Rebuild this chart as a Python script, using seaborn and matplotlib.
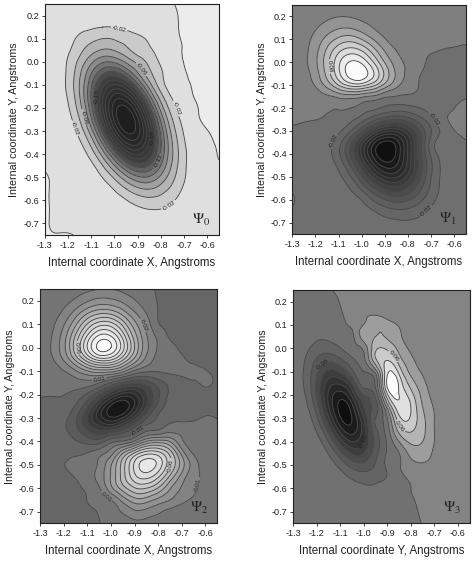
import numpy as np
import matplotlib
matplotlib.use('Agg')
import matplotlib.pyplot as plt
import matplotlib.tri as mtri
import seaborn as sns
from matplotlib.colors import TwoSlopeNorm

# ==========================================================
# DATA: wavefunction values, in units of 0.01
# rows run from the top of the panel (y = 0.25) to the bottom (y = -0.75)
# ==========================================================
x_grid = [-1.3, -1.25, -1.2, -1.15, -1.1, -1.05, -1.0, -0.95, -0.9, -0.85, -0.8, -0.75, -0.7, -0.65, -0.6, -0.55]
y_grid = [0.25, 0.2, 0.15, 0.1, 0.05, 0.0, -0.05, -0.1, -0.15, -0.2, -0.25, -0.3, -0.35, -0.4, -0.45, -0.5, -0.55, -0.6, -0.65, -0.7, -0.75]
x_ticks = [-1.3, -1.2, -1.1, -1.0, -0.9, -0.8, -0.7, -0.6]
y_ticks = [0.2, 0.1, 0.0, -0.1, -0.2, -0.3, -0.4, -0.5, -0.6, -0.7]

psi0 = [
    [-.1, -.12, -.22, -.32, -.36, -.31, -.2, -.12, -.1, -.1, -.1, -.03, .2, .3, .3, .3],
    [-.1, -.22, -.44, -.68, -.83, -.8, -.65, -.45, -.3, -.2, -.1, -.1, .15, .3, .3, .3],
    [-.15, -.35, -.77, -1.3, -1.7, -2.0, -1.9, -1.5, -.9, -.4, -.2, -.15, .15, .3, .3, .3],
    [-.17, -.52, -1.2, -2.5, -3.4, -4.0, -3.8, -3.2, -2.5, -1.6, -.6, -.2, .1, .3, .3, .3],
    [-.21, -.68, -1.7, -3.4, -5.1, -6.2, -5.9, -4.6, -3.2, -2.3, -1.2, -.3, .05, .3, .3, .3],
    [-.22, -.8, -2.2, -4.6, -7.5, -9.7, -9.6, -7.6, -5.4, -3.4, -1.7, -.6, .03, .3, .3, .3],
    [-.22, -.83, -2.4, -5.6, -9.9, -13.7, -14.7, -12.2, -8.2, -4.6, -2.3, -.8, -.1, .3, .3, .3],
    [-.19, -.76, -2.5, -6.1, -11.6, -17.4, -20.1, -18.1, -12.6, -6.9, -2.9, -.95, -.24, .15, .3, .3],
    [-.14, -.64, -2.2, -5.9, -12.2, -19.7, -24.7, -24.0, -18.1, -10.6, -4.8, -1.72, -.47, .08, .3, .3],
    [-.1, -.47, -1.77, -5.1, -11.4, -20.0, -27.0, -28.4, -23.1, -14.7, -7.2, -2.8, -.82, -.1, .3, .3],
    [-.06, -.32, -1.27, -4.0, -9.6, -18.1, -26.4, -30.0, -26.4, -18.1, -9.6, -4.0, -1.27, -.2, .2, .3],
    [-.1, -.19, -.82, -2.8, -7.2, -14.7, -23.1, -28.4, -27.0, -20.0, -11.4, -5.1, -1.77, -.47, -.02, .2],
    [-.1, -.1, -.47, -1.72, -4.8, -10.6, -18.1, -24.0, -24.7, -19.7, -12.2, -5.9, -2.2, -.64, -.15, .1],
    [-.1, -.1, -.24, -.95, -2.9, -6.9, -12.6, -18.1, -20.1, -17.4, -11.6, -6.1, -2.5, -.76, -.25, .05],
    [-.1, -.1, -.12, -.48, -1.5, -4.0, -7.9, -12.2, -14.7, -13.7, -9.9, -5.6, -2.4, -.83, -.22, -.05],
    [.1, -.1, -.1, -.2, -.74, -2.1, -4.4, -7.4, -9.6, -9.7, -7.5, -4.6, -2.2, -.8, -.22, -.1],
    [.1, -.1, -.1, -.1, -.32, -.95, -2.2, -4.0, -5.6, -6.1, -5.1, -3.4, -1.7, -.68, -.21, -.1],
    [.1, -.1, -.1, -.1, -.12, -.39, -1.0, -1.9, -2.9, -3.4, -3.1, -2.2, -1.2, -.52, -.17, -.1],
    [.1, -.1, -.1, -.1, -.1, -.15, -.39, -.83, -1.35, -1.7, -1.7, -1.3, -.77, -.35, -.15, -.1],
    [.1, -.1, -.1, -.1, -.1, -.1, -.14, -.32, -.57, -.77, -.83, -.68, -.44, -.22, -.1, -.1],
    [.05, .03, .03, -.05, -.1, -.1, -.1, -.11, -.2, -.31, -.36, -.32, -.22, -.12, -.1, -.1],
]
psi1 = [
    [.3, .35, .5, .7, .9, .85, .7, .5, .35, .3, .3, .3, .3, .3, .3, .3],
    [.45, .7, 1.15, 1.6, 1.95, 1.9, 1.5, 1.0, .6, .4, .3, .3, .3, .3, .3, .3],
    [.45, .9, 1.8, 2.9, 3.8, 3.9, 3.1, 2.0, 1.05, .5, .3, .3, .3, .3, .3, .3],
    [.55, 1.25, 2.7, 4.7, 6.5, 7.2, 6.0, 4.0, 2.15, .95, .45, .3, .3, .3, .2, .15],
    [.6, 1.45, 3.35, 6.4, 9.5, 11.0, 10.0, 7.0, 3.9, 2.0, .7, .3, .1, -.05, -.1, -.15],
    [.6, 1.5, 3.6, 7.2, 11.5, 14.2, 13.6, 10.1, 5.9, 3.0, 1.5, .4, -.2, -.2, -.2, -.2],
    [.5, 1.2, 3.1, 6.7, 11.4, 15.0, 15.4, 12.3, 7.6, 3.7, 1.5, .1, -.2, -.25, -.2, -.2],
    [.4, .85, 2.2, 4.7, 8.0, 10.6, 10.8, 8.6, 5.3, 2.6, 1.0, -.05, -.2, -.3, -.3, -.3],
    [.25, .35, .75, 1.6, 2.5, 2.9, 2.4, 1.6, .3, -.1, -.3, -.4, -.3, -.2, -.2, -.05],
    [.2, .2, .25, .2, .1, .02, -.8, -1.6, -2.4, -2.9, -2.7, -2.05, -1.2, -.55, -.02, .2],
    [.15, .08, .02, -.2, -.6, -1.5, -3.1, -5.3, -7.3, -8.0, -7.0, -4.9, -2.7, -.5, .3, .4],
    [-.15, -.2, -.3, -.6, -1.6, -3.8, -7.6, -12.0, -15.2, -15.5, -12.5, -8.0, -4.1, -1.5, -.05, .3],
    [-.2, -.2, -.4, -1.2, -3.2, -7.2, -13.0, -19.2, -22.5, -21.0, -15.6, -9.2, -3.2, -1.1, -.5, -.05],
    [-.2, -.2, -.45, -1.3, -3.6, -8.0, -14.4, -20.7, -23.8, -21.7, -15.8, -9.1, -3.6, -1.2, -.5, -.2],
    [-.2, -.2, -.3, -.9, -2.5, -6.0, -11.3, -17.2, -20.8, -20.0, -15.4, -9.4, -4.4, -1.6, -.5, -.2],
    [-.2, -.2, -.25, -.5, -1.5, -3.8, -7.7, -12.4, -15.9, -16.3, -13.3, -8.6, -4.1, -1.6, -.6, -.2],
    [-.1, -.2, -.2, -.3, -.8, -2.1, -4.5, -7.7, -10.5, -11.4, -9.8, -6.7, -3.6, -1.5, -.5, -.2],
    [.1, -.2, -.2, -.2, -.4, -1.1, -2.1, -4.2, -6.0, -6.9, -6.3, -4.6, -2.7, -1.2, -.45, -.2],
    [-.1, -.2, -.2, -.2, -.25, -.4, -1.0, -1.9, -3.0, -3.6, -3.5, -2.7, -1.6, -.8, -.3, -.2],
    [-.15, -.2, -.2, -.2, -.2, -.25, -.4, -.8, -1.3, -1.6, -1.7, -1.4, -.9, -.45, -.25, -.2],
    [-.2, -.2, -.2, -.2, -.2, -.2, -.3, -.5, -.65, -.7, -.6, -.4, -.25, -.2, -.2, -.2],
]
psi2 = [
    [.3, .35, .4, .55, .8, 1.0, 1.0, .75, .45, .2, -.1, -.3, -.3, -.3, -.3, -.3],
    [.3, .4, .7, 1.2, 1.9, 2.4, 2.3, 1.8, 1.1, .47, -.05, -.3, -.3, -.3, -.3, -.3],
    [.3, .55, 1.2, 2.4, 3.8, 4.7, 4.6, 3.5, 2.1, .95, -.03, -.3, -.3, -.3, -.3, -.3],
    [.3, .8, 1.9, 3.8, 6.1, 7.6, 7.5, 5.7, 3.4, 1.6, .1, -.2, -.3, -.3, -.3, -.3],
    [.35, 1.0, 2.5, 5.1, 8.1, 10.2, 10.0, 7.6, 4.5, 2.1, .7, -.1, -.3, -.3, -.3, -.3],
    [.4, 1.1, 2.7, 5.6, 9.0, 11.3, 11.0, 8.4, 5.0, 2.3, .9, .2, -.1, -.3, -.3, -.3],
    [.3, .85, 2.1, 4.2, 6.7, 8.4, 8.2, 6.2, 3.7, 1.7, .7, .3, .1, -.2, -.25, -.25],
    [.3, .45, .95, 1.85, 2.9, 3.5, 3.3, 2.3, .8, .15, .05, .2, .2, .2, .05, -.2],
    [.25, .3, .4, .55, .6, .02, -1.1, -2.3, -2.9, -2.5, -1.5, -.7, -.3, -.1, .1, -.15],
    [.08, .05, .02, -.35, -1.2, -2.8, -4.9, -6.4, -6.1, -4.2, -2.2, -.8, -.3, -.2, -.2, -.2],
    [-.15, -.2, -.35, -1.1, -2.8, -5.6, -8.2, -8.8, -6.9, -4.0, -1.7, -.6, -.3, -.2, -.2, -.2],
    [-.15, -.3, -.75, -1.8, -4.0, -6.4, -7.8, -6.9, -4.5, -2.1, -.85, -.3, -.25, -.15, .05, -.02],
    [-.2, -.3, -.8, -1.7, -3.0, -4.1, -4.1, -3.0, -1.6, -.3, -.05, .6, .6, .45, .3, .2],
    [-.2, -.25, -.45, -.9, -1.4, -1.5, -.35, .15, 1.2, 3.0, 3.5, 2.9, 1.2, .6, .4, .3],
    [-.2, -.2, -.2, -.15, .02, .6, 1.6, 3.9, 6.1, 7.6, 7.4, 5.6, 2.6, .9, .5, .3],
    [-.2, -.2, -.02, .2, .4, 1.2, 2.9, 5.5, 8.2, 9.5, 8.7, 6.2, 3.5, 1.5, .6, .3],
    [-.2, -.2, -.2, .05, .47, 1.4, 3.1, 5.5, 7.7, 8.4, 7.2, 4.8, 2.6, 1.3, .8, .3],
    [-.2, -.2, -.3, -.2, .15, .9, 2.7, 4.5, 5.9, 6.0, 4.9, 3.1, 1.9, 1.2, .5, .3],
    [-.15, -.2, -.3, -.3, .02, .5, 1.0, 2.4, 3.6, 3.5, 2.7, 2.0, 1.3, .8, .4, .3],
    [-.15, -.2, -.25, -.3, -.2, .1, .6, 1.1, 1.8, 1.65, 1.2, .7, .4, .3, .3, .3],
    [-.15, -.2, -.2, -.25, -.25, -.02, .3, .5, .7, .65, .45, .3, .25, .25, .25, .25],
]
psi3 = [
    [-.2, -.2, -.25, -.1, .2, .4, .5, .35, .2, .2, .2, .2, .2, .2, .2, .2],
    [-.2, -.2, -.25, -.3, .05, .7, 1.0, .8, .4, .25, .2, .2, .2, .2, .2, .2],
    [-.2, -.2, -.3, -.35, -.1, .7, 1.6, 1.7, 1.0, .4, .25, .2, .2, .2, .2, .2],
    [-.2, -.25, -.35, -.6, -.3, .3, 2.1, 3.4, 2.9, 1.8, .6, .2, .2, .2, .2, .2],
    [-.4, -1.0, -1.55, -1.5, -.9, -.4, 3.0, 4.0, 3.8, 2.4, 1.0, .3, .2, .2, .2, .2],
    [-.5, -1.5, -2.7, -3.1, -2.1, -1.0, .5, 5.4, 5.6, 3.4, 1.6, .4, .2, .2, .2, .2],
    [-.6, -2.0, -4.3, -5.5, -4.4, -2.4, -.5, 5.5, 7.9, 5.0, 2.5, .9, .25, .2, .2, .2],
    [-.6, -2.3, -5.6, -8.4, -7.7, -4.5, -2.0, .8, 9.5, 7.4, 3.5, 1.7, .4, .2, .2, .2],
    [-.5, -2.3, -6.3, -10.9, -11.6, -8.0, -3.0, -1.6, 10.5, 9.6, 5.1, 2.6, .8, .2, .2, .2],
    [-.4, -1.9, -6.2, -12.2, -15.0, -11.5, -6.0, -3.5, 7.5, 10.0, 6.9, 3.4, 1.3, .3, .2, .2],
    [-.3, -1.4, -5.0, -11.7, -16.6, -14.7, -8.0, -5.0, 2.8, 9.4, 8.0, 4.0, 1.8, .4, .2, .2],
    [-.2, -.85, -3.6, -9.6, -15.7, -16.0, -10.0, -4.0, -.1, 7.3, 7.7, 4.6, 2.0, .5, .2, .2],
    [-.2, -.45, -2.2, -6.7, -12.7, -15.0, -10.9, -4.5, -.9, 4.8, 6.3, 4.6, 2.0, .5, .2, .2],
    [-.2, -.25, -1.15, -4.0, -8.8, -12.0, -10.0, -5.3, -1.7, 2.0, 4.4, 4.0, 2.0, .6, .2, .2],
    [-.2, -.2, -.55, -2.1, -5.2, -8.2, -8.0, -4.8, -1.8, -.05, 2.6, 2.9, 1.7, .6, .2, .2],
    [-.15, -.2, -.3, -.95, -2.7, -4.8, -5.4, -3.8, -1.6, -.2, 1.3, 1.8, 1.5, .5, .2, .2],
    [-.15, -.15, -.2, -.3, -1.15, -2.4, -3.1, -2.9, -1.9, -.4, .3, .9, .7, .3, .2, .2],
    [-.15, -.15, -.15, -.2, -.5, -1.0, -1.55, -1.45, -.85, -.3, -.01, .4, .4, .25, .2, .2],
    [-.15, -.15, -.15, -.15, -.2, -.4, -.75, -.8, -.55, -.3, -.1, .2, .25, .2, .2, .2],
    [-.15, -.15, -.15, -.15, -.15, -.2, -.3, -.35, -.3, -.2, -.15, .1, .2, .2, .2, .2],
    [-.15, -.15, -.15, -.15, -.15, -.15, -.15, -.2, -.2, -.15, -.15, .02, .15, .15, .15, .15],
]

psi_names = [r'$\Psi_0$', r'$\Psi_1$', r'$\Psi_2$', r'$\Psi_3$']
x_labels = ['Internal coordinate X, Angstroms', 'Internal coordinate X, Angstroms',
            'Internal coordinate X, Angstroms', 'Internal coordinate Y, Angstroms']
level_steps = [0.02, 0.02, 0.01, 0.02]
level_mins = [-0.30, -0.22, -0.09, -0.16]
level_maxs = [0.0, 0.14, 0.11, 0.10]
# greys from the lowest value through zero (middle entry) to the highest value
greys = [['#161616', '#404040', '#e8e8e8', '#eeeeee', '#f4f4f4'],
         ['#0e0e0e', '#3e3e3e', '#747474', '#c4c4c4', '#ffffff'],
         ['#0a0a0a', '#363636', '#6c6c6c', '#c4c4c4', '#ffffff'],
         ['#0a0a0a', '#3e3e3e', '#787878', '#c0c0c0', '#ffffff']]
# where the contour labels sit
label_spots = [
    [(-0.98, 0.14), (-0.73, -0.2), (-1.2, -0.3), (-0.78, -0.6), (-0.88, -0.03), (-1.07, -0.15), (-1.13, -0.24), (-0.84, -0.33), (-0.81, -0.43)],
    [(-1.15, -0.02), (-1.13, -0.34), (-0.69, -0.25), (-0.72, -0.65)],
    [(-0.855, 0.1), (-1.14, 0.0), (-1.05, -0.13), (-0.88, -0.36), (-0.75, -0.5), (-0.64, -0.58), (-1.02, -0.635)],
    [(-0.87, -0.03), (-0.84, -0.33), (-1.18, -0.065), (-1.0, -0.4)],
]
# axes boxes in pixels: left, top, right, bottom
boxes = [(44.7, 4, 219, 235), (292.3, 5, 465.7, 234), (40, 289.3, 217.3, 523.3), (293, 290, 469.7, 523.3)]

# ==========================================================
# STYLE
# ==========================================================
sns.set_theme(style='ticks')
plt.rcParams['font.family'] = ['Liberation Sans', 'DejaVu Sans']
plt.rcParams['mathtext.fontset'] = 'stix'

W, H = 474, 563
fig = plt.figure(figsize=(W / 100, H / 100), dpi=100, facecolor='white')

# triangulate the grid once; the library refines it so the contours come out round
gx, gy = np.meshgrid(x_grid, y_grid)
grid_tri = mtri.Triangulation(gx.ravel(), gy.ravel())
refiner = mtri.UniformTriRefiner(grid_tri)

# ==========================================================
# PANELS
# ==========================================================
for n, field in enumerate([psi0, psi1, psi2, psi3]):
    l, t, r, b = boxes[n]
    ax = fig.add_axes([l / W, 1 - b / H, (r - l) / W, (b - t) / H])

    z = np.array(field).ravel() / 100
    fine_tri, fine_z = refiner.refine_field(z, subdiv=3)

    step = level_steps[n]
    neg = np.arange(level_mins[n], -step / 2, step)
    pos = np.arange(0, level_maxs[n] + step / 2, step)
    levels = np.concatenate([neg, pos])
    fill_levels = np.concatenate([[fine_z.min() - 0.01], levels, [fine_z.max() + 0.01]])

    cmap = sns.blend_palette(greys[n], as_cmap=True)
    norm = TwoSlopeNorm(vmin=level_mins[n] - step, vcenter=0, vmax=level_maxs[n] + step)
    ax.tricontourf(fine_tri, fine_z, levels=fill_levels, cmap=cmap, norm=norm)
    lines = ax.tricontour(fine_tri, fine_z, levels=levels, colors='#474747', linewidths=0.65, linestyles='solid')
    ax.clabel(lines, manual=label_spots[n], fmt='%.2f', fontsize=4.6, colors='#222222', inline=True, inline_spacing=1)

    ax.set_xlim(-1.3, -0.55)
    ax.set_ylim(-0.75, 0.25)
    ax.set_xticks(x_ticks)
    ax.set_yticks(y_ticks)
    ax.set_xticklabels([f'{v:.1f}' for v in x_ticks])
    ax.set_yticklabels([f'{v:.1f}' for v in y_ticks])
    ax.tick_params(length=2, width=0.6, labelsize=6.6, pad=2, color='#222222', labelcolor='#222222')
    ax.set_xlabel(x_labels[n], fontsize=8.3, labelpad=5.5, color='#222222')
    ax.set_ylabel('Internal coordinate Y, Angstroms', fontsize=7.7, labelpad=3, color='#222222')
    for side in ax.spines.values():
        side.set_visible(True)
        side.set_linewidth(0.8)
        side.set_color('#222222')
    ax.text(-0.625, -0.685, psi_names[n], fontsize=11, ha='center', va='center', color='#222222')

fig.savefig('out.png', dpi=100)
